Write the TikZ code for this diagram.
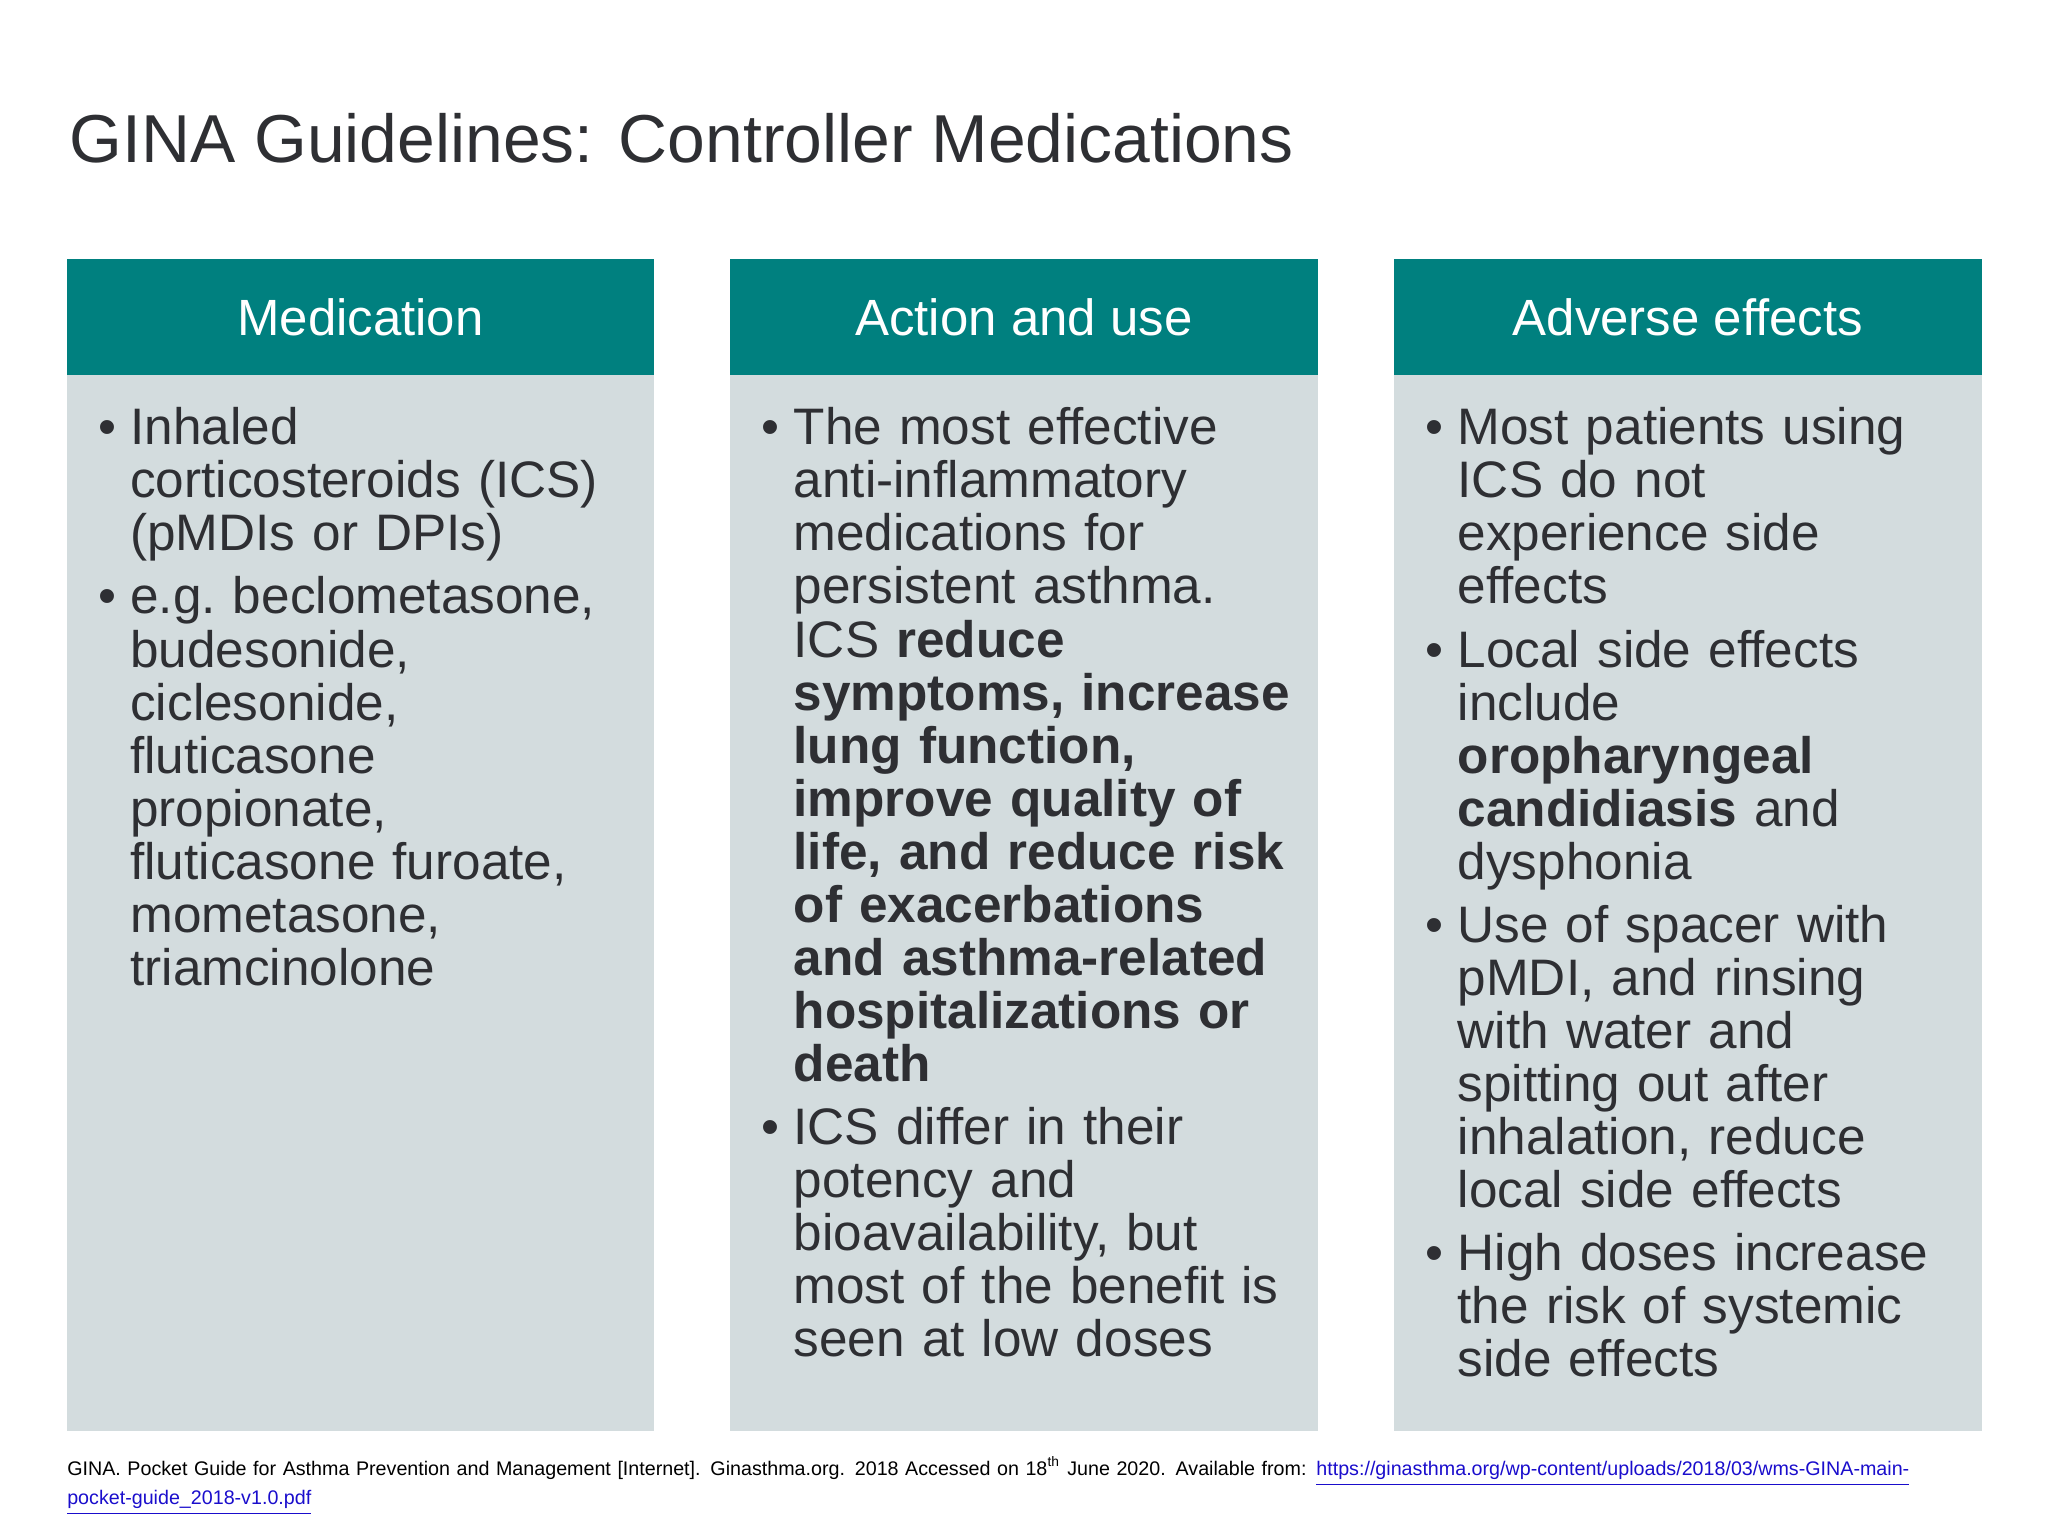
\documentclass[tikz,border=0pt]{standalone}
\usepackage{fontspec}
\setmainfont{Liberation Sans}
\usepackage{xcolor}
\definecolor{teal0}{HTML}{00807F}
\definecolor{bodyc}{HTML}{D3DCDE}
\definecolor{txt}{HTML}{2E2F33}
\definecolor{linkc}{HTML}{1A0DCC}
\newcommand\bitem[1]{\par\noindent\hangindent=0.32cm\hangafter=0\hspace*{-0.32cm}\makebox[0.32cm][l]{\textbullet}#1\par}
\tikzset{
 btext/.style={anchor=north west, inner sep=0pt, text width=6.2cm, align=left, text=txt,
   font=\fontsize{14.6pt}{15.1pt}\selectfont}
}
\begin{document}
\begin{tikzpicture}[x=1cm,y=1cm]
\useasboundingbox (0,0) rectangle (20.48,-15.36);
\node[anchor=base west, inner sep=0pt, text=txt, font=\fontsize{19.3pt}{23pt}\selectfont] (title) at (0.69,-1.63) {GINA Guidelines: Controller Medications};
\foreach \x/\n/\t in {0.666/a/Medication, 7.30/b/Action and use, 13.94/c/Adverse effects}{
  \fill[bodyc] (\x,-3.748) rectangle ++(5.877,-10.56);
  \fill[teal0] (\x,-2.586) rectangle ++(5.877,-1.162);
  \node[text=white, font=\fontsize{14.5pt}{17pt}\selectfont, inner sep=0pt] (h\n) at (\x+2.9385,-3.17) {\t};
}
\node[btext] (ta) at (0.666+0.31,-3.81) {\parskip=0.1cm
\bitem{\rule{0pt}{0.42cm}Inhaled\newline corticosteroids (ICS)\newline (pMDIs or DPIs)}
\bitem{e.g.\ beclometasone,\newline budesonide,\newline ciclesonide,\newline fluticasone\newline propionate,\newline fluticasone furoate,\newline mometasone,\newline triamcinolone}};
\node[btext] (tb) at (7.30+0.31,-3.81) {\parskip=0.1cm
\bitem{\rule{0pt}{0.42cm}The most effective\newline anti-inflammatory\newline medications for\newline persistent asthma.\newline ICS \textbf{reduce}\newline \textbf{symptoms, increase}\newline \textbf{lung function,}\newline \textbf{improve quality of}\newline \textbf{life, and reduce risk}\newline \textbf{of exacerbations}\newline \textbf{and asthma-related}\newline \textbf{hospitalizations or}\newline \textbf{death}}
\bitem{ICS differ in their\newline potency and\newline bioavailability, but\newline most of the benefit is\newline seen at low doses}};
\node[btext] (tc) at (13.94+0.31,-3.81) {\parskip=0.1cm
\bitem{\rule{0pt}{0.42cm}Most patients using\newline ICS do not\newline experience side\newline effects}
\bitem{Local side effects\newline include\newline \textbf{oropharyngeal}\newline \textbf{candidiasis} and\newline dysphonia}
\bitem{Use of spacer with\newline pMDI, and rinsing\newline with water and\newline spitting out after\newline inhalation, reduce\newline local side effects}
\bitem{High doses increase\newline the risk of systemic\newline side effects}};
\node[anchor=north west, inner sep=0pt, text width=19.5cm, align=left, text=black, font=\fontsize{5.6pt}{6.4pt}\selectfont] (foot) at (0.666,-14.56) {GINA. Pocket Guide for Asthma Prevention and Management [Internet]. Ginasthma.org. 2018 Accessed on 18\textsuperscript{th} June 2020. Available from: \textcolor{linkc}{\underline{https://ginasthma.org/wp-content/uploads/2018/03/wms-GINA-main-}}\newline\textcolor{linkc}{\underline{pocket-guide\_2018-v1.0.pdf}}};
\end{tikzpicture}
\end{document}
